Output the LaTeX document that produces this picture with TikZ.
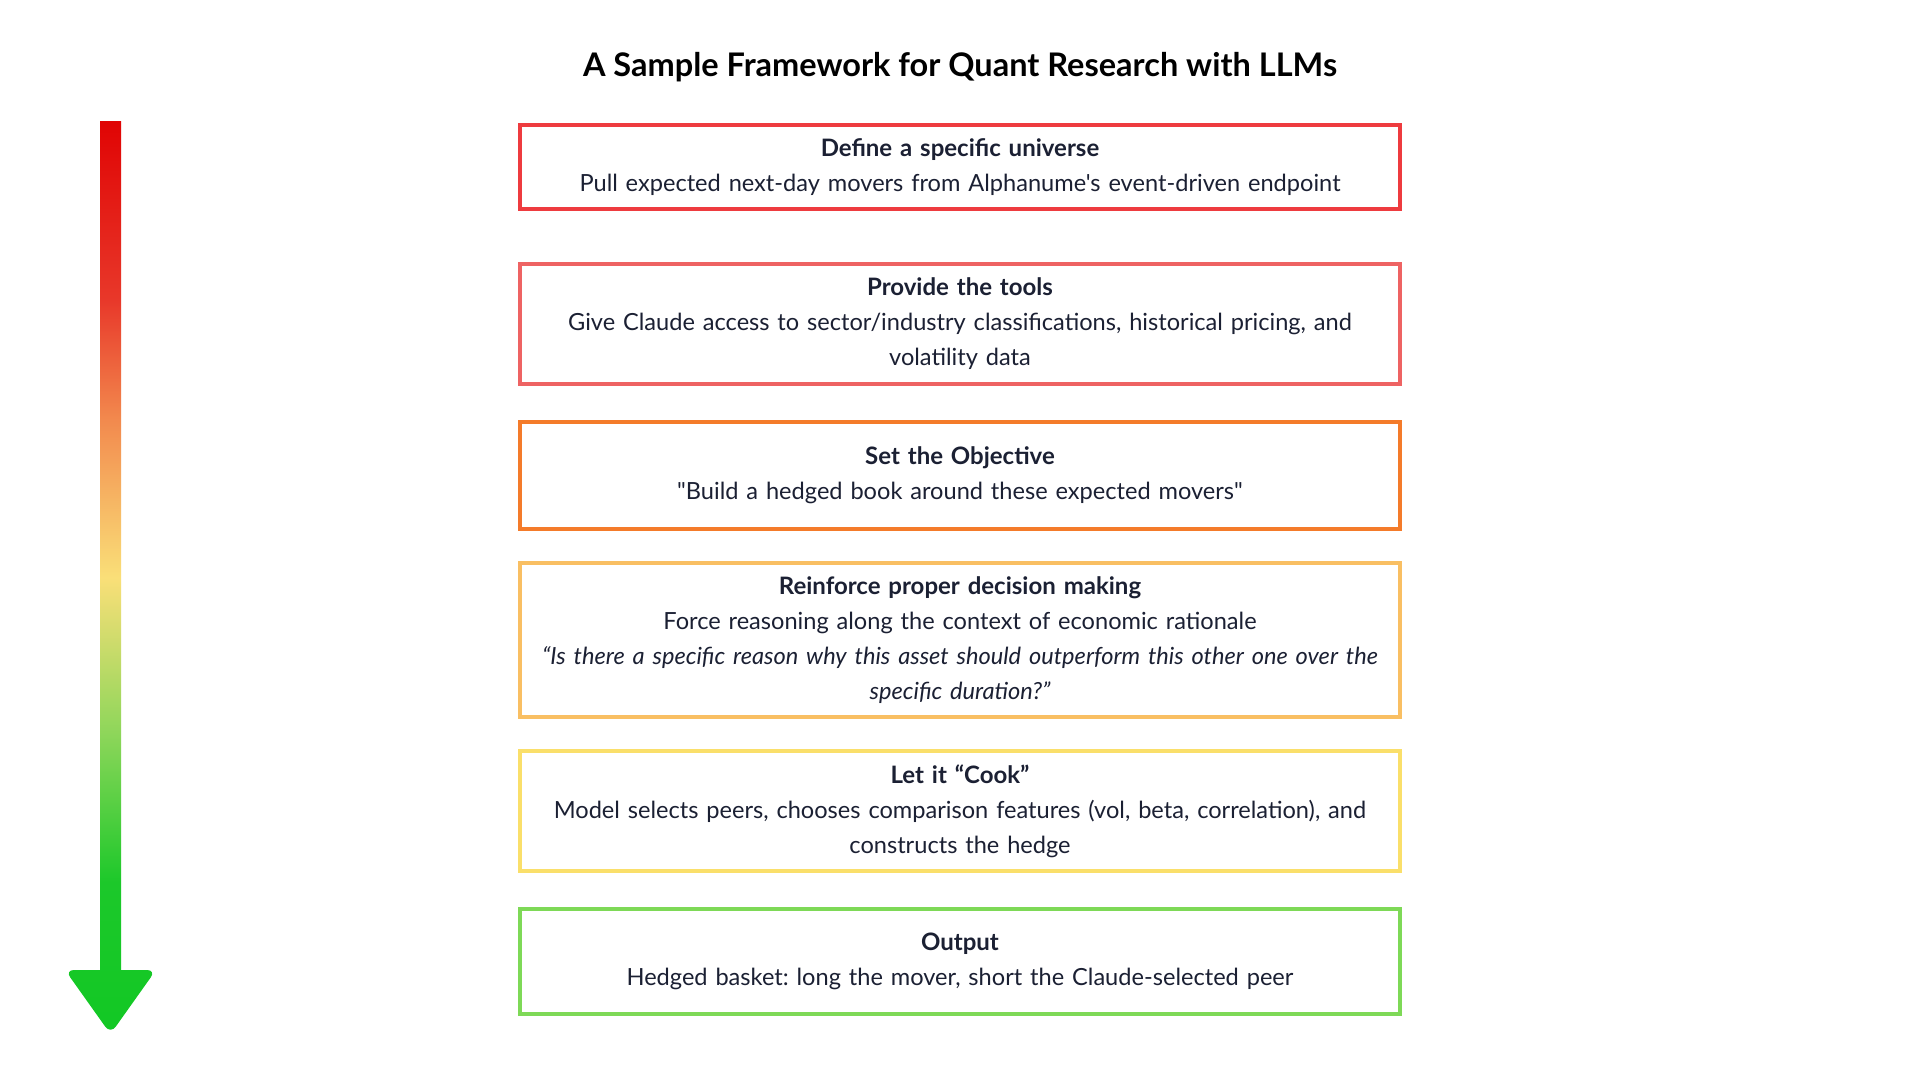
\documentclass[tikz,border=0pt]{standalone}
\usepackage{fontspec}
\setmainfont{Lato}[Ligatures=TeXOff]
\frenchspacing
\usetikzlibrary{positioning}
\definecolor{boxA}{HTML}{EE3B3F}
\definecolor{boxB}{HTML}{EE6363}
\definecolor{boxC}{HTML}{F47B2A}
\definecolor{boxD}{HTML}{F9BF63}
\definecolor{boxE}{HTML}{FADF6A}
\definecolor{boxF}{HTML}{7ED957}
\definecolor{txt}{HTML}{1B2033}
\definecolor{ga}{HTML}{E00404}
\definecolor{gb}{HTML}{E8382A}
\definecolor{gc}{HTML}{F28A4E}
\definecolor{gd}{HTML}{FADF78}
\definecolor{ge}{HTML}{8ED65A}
\definecolor{gf}{HTML}{1CC82A}
\definecolor{gg}{HTML}{12C824}
\pgfdeclareverticalshading{arrowgrad}{100bp}{color(0bp)=(gg); color(25bp)=(gg); color(33.3bp)=(gf); color(41.5bp)=(ge); color(50bp)=(gd); color(58.6bp)=(gc); color(65.2bp)=(gb); color(75bp)=(ga); color(100bp)=(ga)}
\tikzset{
  stepbox/.style={draw=#1, line width=4pt, minimum width=880pt, text width=860pt,
    align=center, inner sep=0pt, anchor=north, font=\fontsize{23.6pt}{35pt}\selectfont\frenchspacing, text=txt}
}
\newcommand{\hdr}[1]{{\fontsize{24pt}{35pt}\selectfont\bfseries #1}}
\begin{document}
\begin{tikzpicture}[x=1pt,y=1pt]
\useasboundingbox[fill=white] (0,0) rectangle (1920,-1080);
\node[font=\fontsize{32.5pt}{38pt}\selectfont\bfseries, text=black] (title) at (960,-67) {A Sample Framework for Quant Research with LLMs};
\node[stepbox=boxA, minimum height=84pt] (b1) at (960,-123) {\hdr{Define a specific universe}\\Pull expected next-day movers from Alphanume's event-driven endpoint};
\node[stepbox=boxB, minimum height=120pt] (b2) at (960,-262) {\hdr{Provide the tools}\\Give Claude access to sector/industry classifications, historical pricing, and\\volatility data};
\node[stepbox=boxC, minimum height=107pt] (b3) at (960,-420) {\hdr{Set the Objective}\\"Build a hedged book around these expected movers"};
\node[stepbox=boxD, minimum height=154pt] (b4) at (960,-561) {\hdr{Reinforce proper decision making}\\Force reasoning along the context of economic rationale\\\textit{“Is there a specific reason why this asset should outperform this other one over the}\\\textit{specific duration?”}};
\node[stepbox=boxE, minimum height=120pt] (b5) at (960,-749) {\hdr{Let it “Cook”}\\Model selects peers, chooses comparison features (vol, beta, correlation), and\\constructs the hedge};
\node[stepbox=boxF, minimum height=105pt] (b6) at (960,-907) {\hdr{Output}\\Hedged basket: long the mover, short the Claude-selected peer};
\shade[shading=arrowgrad] (100,-121) -- (121,-121) -- (121,-970) [rounded corners=9pt] -- (156,-970) -- (110.5,-1034) -- (65,-970) [sharp corners] -- (100,-970) -- cycle;
\end{tikzpicture}
\end{document}
